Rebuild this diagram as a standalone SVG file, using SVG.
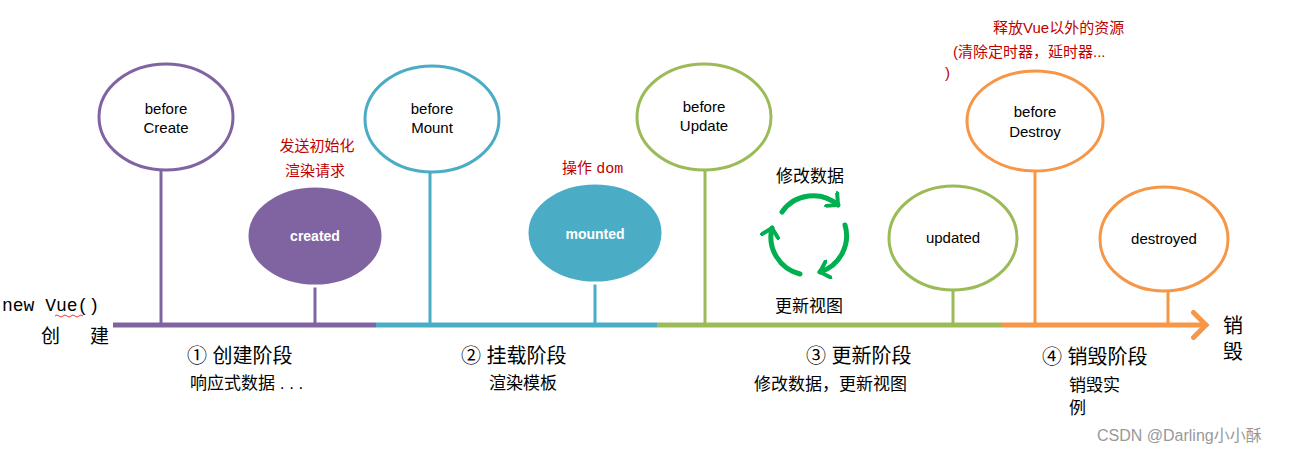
<svg xmlns="http://www.w3.org/2000/svg" width="1306" height="453" viewBox="0 0 1306 453">
<style>
text{font-family:"Liberation Sans","Noto Sans CJK SC",sans-serif;font-size:17px;fill:#000}
.n{font-size:15px;fill:#000}
.r{fill:#c00000;font-size:15px}
.h{font-size:20px}
.o{fill:#fff;stroke-width:3}
.p{stroke:#8064a2}.t{stroke:#4bacc6}.g{stroke:#9bbb59}.or{stroke:#f79646}
.s{stroke-width:3;fill:none}
</style>
<defs><marker id="ah" markerWidth="6" markerHeight="6" refX="3" refY="3" orient="auto" markerUnits="strokeWidth"><path d="M0.5,0.5 L3,3 L0.5,5.5" fill="none" stroke="#f79646" stroke-width="1" stroke-linecap="round"/></marker>
<marker id="ga" markerWidth="4" markerHeight="4" refX="2" refY="2" orient="auto" markerUnits="strokeWidth"><path d="M0.3,0.3 L2,2 L0.3,3.7" fill="none" stroke="#00b050" stroke-width="0.8" stroke-linecap="round"/></marker></defs>
<g id="connectors">
<line x1="113" y1="325" x2="376" y2="325" class="p" stroke-width="5"/>
<line x1="376" y1="325" x2="657" y2="325" class="t" stroke-width="5"/>
<line x1="657" y1="325" x2="1002" y2="325" class="g" stroke-width="5"/>
<line x1="1002" y1="325" x2="1206" y2="325" class="or" stroke-width="5" marker-end="url(#ah)"/>
<line x1="161" y1="170" x2="161" y2="325" class="p s"/>
<line x1="315" y1="286" x2="315" y2="325" class="p s"/>
<line x1="430" y1="172" x2="430" y2="325" class="t s"/>
<line x1="595" y1="283" x2="595" y2="325" class="t s"/>
<line x1="705" y1="170" x2="705" y2="325" class="g s"/>
<line x1="953" y1="290" x2="953" y2="325" class="g s"/>
<line x1="1035" y1="171" x2="1035" y2="325" class="or s"/>
<line x1="1168" y1="290" x2="1168" y2="325" class="or s"/>
</g>
<g id="beforeCreate"><ellipse cx="166" cy="117" rx="67" ry="53" class="o p"/><text class="n" x="166" y="114" text-anchor="middle">before</text><text class="n" x="166" y="133" text-anchor="middle">Create</text></g>
<g id="created"><ellipse cx="315" cy="236" rx="68" ry="50" fill="#8064a2" stroke="#fff" stroke-width="3"/><text x="315" y="241" text-anchor="middle" style="font-size:14px;font-weight:bold;fill:#fff">created</text></g>
<g id="beforeMount"><ellipse cx="432" cy="119" rx="67" ry="53" class="o t"/><text class="n" x="432" y="114" text-anchor="middle">before</text><text class="n" x="432" y="133" text-anchor="middle">Mount</text></g>
<g id="mounted"><ellipse cx="595" cy="233" rx="68" ry="50" fill="#4bacc6" stroke="#fff" stroke-width="3"/><text x="595" y="239" text-anchor="middle" style="font-size:14px;font-weight:bold;fill:#fff">mounted</text></g>
<g id="beforeUpdate"><ellipse cx="704" cy="117" rx="67" ry="53" class="o g"/><text class="n" x="704" y="112" text-anchor="middle">before</text><text class="n" x="704" y="131" text-anchor="middle">Update</text></g>
<g id="updated"><ellipse cx="953" cy="238" rx="64" ry="52" class="o g"/><text class="n" x="953" y="243" text-anchor="middle">updated</text></g>
<g id="beforeDestroy"><ellipse cx="1035" cy="121" rx="68" ry="50" class="o or"/><text class="n" x="1035" y="117" text-anchor="middle">before</text><text class="n" x="1035" y="137" text-anchor="middle">Destroy</text></g>
<g id="destroyed"><ellipse cx="1164" cy="239" rx="64" ry="52" class="o or"/><text class="n" x="1164" y="244" text-anchor="middle">destroyed</text></g>
<g id="cycle" fill="none" stroke="#00b050" stroke-width="5" stroke-linecap="round">
<path d="M782,212 A38,38 0 0 1 838,205" marker-end="url(#ga)"/>
<path d="M845,225 A38,38 0 0 1 820,272" marker-end="url(#ga)"/>
<path d="M800,274 A38,38 0 0 1 772,228" marker-end="url(#ga)"/>
</g>
<g id="labels">
<text x="2" y="311" style="font-family:'Liberation Mono',monospace;font-size:18px">new Vue()</text>
<path d="M55,316 q2,-2 4,0 t4,0 t4,0 t4,0 t4,0 t4,0 t4,0" fill="none" stroke="#e00" stroke-width="0.8"/>
<text x="41" y="343" style="font-size:19px">创</text><text x="90" y="343" style="font-size:19px">建</text>
<text class="r" x="317" y="151" text-anchor="middle">发送初始化</text>
<text class="r" x="315" y="176" text-anchor="middle">渲染请求</text>
<text class="r" x="562" y="173">操作 <tspan style="font-family:'Liberation Mono',monospace">dom</tspan></text>
<text class="r" x="993" y="33">释放Vue以外的资源</text>
<text class="r" x="953" y="57">(清除定时器，延时器...</text>
<text class="r" x="945" y="78">)</text>
<text x="776" y="182">修改数据</text>
<text x="775" y="312">更新视图</text>
<text class="h" x="187" y="363">①  创建阶段</text>
<text x="190" y="389">响应式数据 . . .</text>
<text class="h" x="461" y="363">②  挂载阶段</text>
<text x="489" y="389">渲染模板</text>
<text class="h" x="806" y="363">③  更新阶段</text>
<text x="754" y="390">修改数据，更新视图</text>
<text class="h" x="1042" y="364">④  销毁阶段</text>
<text x="1069" y="391">销毁实</text>
<text x="1069" y="414">例</text>
<text x="1223" y="333" style="font-size:20px">销</text>
<text x="1223" y="359" style="font-size:20px">毁</text>
<text x="1097" y="441" style="font-size:16px;fill:#999">CSDN @Darling小小酥</text>
</g>
</svg>
